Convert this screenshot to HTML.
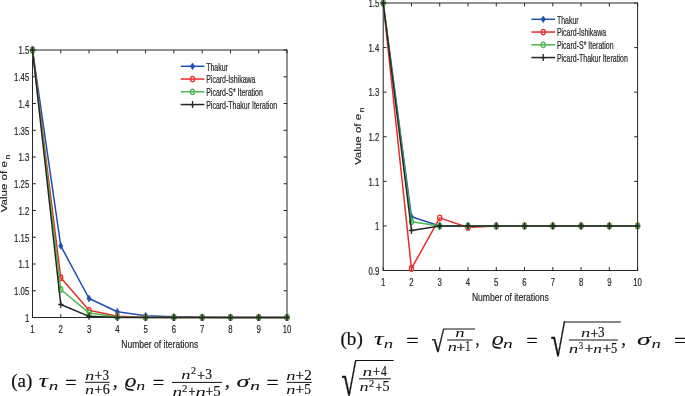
<!DOCTYPE html>
<html><head><meta charset="utf-8"><title>Figure</title>
<style>html,body{margin:0;padding:0;background:#fff;width:685px;height:396px;overflow:hidden}svg{display:block}</style>
</head><body>
<svg width="685" height="396" viewBox="0 0 685 396" font-family="Liberation Sans, Arial, sans-serif">
<rect width="685" height="396" fill="#fff"/>
<rect x="32.5" y="50" width="254.5" height="267.5" fill="none" stroke="#262626" stroke-width="1"/>
<path d="M32.5 317.5V314.1M32.5 50V53.4M60.78 317.5V314.1M60.78 50V53.4M89.06 317.5V314.1M89.06 50V53.4M117.33 317.5V314.1M117.33 50V53.4M145.61 317.5V314.1M145.61 50V53.4M173.89 317.5V314.1M173.89 50V53.4M202.17 317.5V314.1M202.17 50V53.4M230.44 317.5V314.1M230.44 50V53.4M258.72 317.5V314.1M258.72 50V53.4M287 317.5V314.1M287 50V53.4M32.5 317.5H35.9M287 317.5H283.6M32.5 290.75H35.9M287 290.75H283.6M32.5 264H35.9M287 264H283.6M32.5 237.25H35.9M287 237.25H283.6M32.5 210.5H35.9M287 210.5H283.6M32.5 183.75H35.9M287 183.75H283.6M32.5 157H35.9M287 157H283.6M32.5 130.25H35.9M287 130.25H283.6M32.5 103.5H35.9M287 103.5H283.6M32.5 76.75H35.9M287 76.75H283.6M32.5 50H35.9M287 50H283.6" stroke="#262626" stroke-width="1" fill="none"/>
<g fill="#262626" stroke="#262626" stroke-width="0.2">
<text transform="translate(32.5,332.9) scale(0.74,1)" font-size="10.5" text-anchor="middle">1</text>
<text transform="translate(60.78,332.9) scale(0.74,1)" font-size="10.5" text-anchor="middle">2</text>
<text transform="translate(89.06,332.9) scale(0.74,1)" font-size="10.5" text-anchor="middle">3</text>
<text transform="translate(117.33,332.9) scale(0.74,1)" font-size="10.5" text-anchor="middle">4</text>
<text transform="translate(145.61,332.9) scale(0.74,1)" font-size="10.5" text-anchor="middle">5</text>
<text transform="translate(173.89,332.9) scale(0.74,1)" font-size="10.5" text-anchor="middle">6</text>
<text transform="translate(202.17,332.9) scale(0.74,1)" font-size="10.5" text-anchor="middle">7</text>
<text transform="translate(230.44,332.9) scale(0.74,1)" font-size="10.5" text-anchor="middle">8</text>
<text transform="translate(258.72,332.9) scale(0.74,1)" font-size="10.5" text-anchor="middle">9</text>
<text transform="translate(287,332.9) scale(0.74,1)" font-size="10.5" text-anchor="middle">10</text>
<text transform="translate(29.2,321.8) scale(0.74,1)" font-size="10.5" text-anchor="end">1</text>
<text transform="translate(29.2,295.05) scale(0.74,1)" font-size="10.5" text-anchor="end">1.05</text>
<text transform="translate(29.2,268.3) scale(0.74,1)" font-size="10.5" text-anchor="end">1.1</text>
<text transform="translate(29.2,241.55) scale(0.74,1)" font-size="10.5" text-anchor="end">1.15</text>
<text transform="translate(29.2,214.8) scale(0.74,1)" font-size="10.5" text-anchor="end">1.2</text>
<text transform="translate(29.2,188.05) scale(0.74,1)" font-size="10.5" text-anchor="end">1.25</text>
<text transform="translate(29.2,161.3) scale(0.74,1)" font-size="10.5" text-anchor="end">1.3</text>
<text transform="translate(29.2,134.55) scale(0.74,1)" font-size="10.5" text-anchor="end">1.35</text>
<text transform="translate(29.2,107.8) scale(0.74,1)" font-size="10.5" text-anchor="end">1.4</text>
<text transform="translate(29.2,81.05) scale(0.74,1)" font-size="10.5" text-anchor="end">1.45</text>
<text transform="translate(29.2,54.3) scale(0.74,1)" font-size="10.5" text-anchor="end">1.5</text>
<text transform="translate(159.75,347.5) scale(0.74,1)" font-size="11.55" text-anchor="middle">Number of iterations</text>
<text transform="translate(6.6,212.3) rotate(-90) scale(1,0.74)" font-size="11.55">Value of e<tspan font-size="8.5" dx="1.6" dy="4.2">n</tspan></text>
</g>
<polyline points="32.5,50 60.78,245.97 89.06,298.51 117.33,311.72 145.61,315.68 173.89,316.86 202.17,317.29 230.44,317.45 258.72,317.5 287,317.5" fill="none" stroke="#1f4fb0" stroke-width="1.5" stroke-linejoin="round"/>
<path d="M32.5 46.6L34.6 50L32.5 53.4L30.4 50Z" fill="#1f4fb0" stroke="#1f4fb0" stroke-width="0.6"/>
<path d="M60.78 242.57L62.88 245.97L60.78 249.37L58.68 245.97Z" fill="#1f4fb0" stroke="#1f4fb0" stroke-width="0.6"/>
<path d="M89.06 295.11L91.16 298.51L89.06 301.91L86.96 298.51Z" fill="#1f4fb0" stroke="#1f4fb0" stroke-width="0.6"/>
<path d="M117.33 308.32L119.43 311.72L117.33 315.12L115.23 311.72Z" fill="#1f4fb0" stroke="#1f4fb0" stroke-width="0.6"/>
<path d="M145.61 312.28L147.71 315.68L145.61 319.08L143.51 315.68Z" fill="#1f4fb0" stroke="#1f4fb0" stroke-width="0.6"/>
<path d="M173.89 313.46L175.99 316.86L173.89 320.26L171.79 316.86Z" fill="#1f4fb0" stroke="#1f4fb0" stroke-width="0.6"/>
<path d="M202.17 313.89L204.27 317.29L202.17 320.69L200.07 317.29Z" fill="#1f4fb0" stroke="#1f4fb0" stroke-width="0.6"/>
<path d="M230.44 314.05L232.54 317.45L230.44 320.85L228.34 317.45Z" fill="#1f4fb0" stroke="#1f4fb0" stroke-width="0.6"/>
<path d="M258.72 314.1L260.82 317.5L258.72 320.9L256.62 317.5Z" fill="#1f4fb0" stroke="#1f4fb0" stroke-width="0.6"/>
<path d="M287 314.1L289.1 317.5L287 320.9L284.9 317.5Z" fill="#1f4fb0" stroke="#1f4fb0" stroke-width="0.6"/>
<polyline points="32.5,50 60.78,277.75 89.06,310.28 117.33,316.16 145.61,317.23 173.89,317.45 202.17,317.5 230.44,317.5 258.72,317.5 287,317.5" fill="none" stroke="#ea2b2b" stroke-width="1.5" stroke-linejoin="round"/>
<ellipse cx="32.5" cy="50" rx="2.05" ry="2.75" fill="none" stroke="#ea2b2b" stroke-width="1.3"/>
<ellipse cx="60.78" cy="277.75" rx="2.05" ry="2.75" fill="none" stroke="#ea2b2b" stroke-width="1.3"/>
<ellipse cx="89.06" cy="310.28" rx="2.05" ry="2.75" fill="none" stroke="#ea2b2b" stroke-width="1.3"/>
<ellipse cx="117.33" cy="316.16" rx="2.05" ry="2.75" fill="none" stroke="#ea2b2b" stroke-width="1.3"/>
<ellipse cx="145.61" cy="317.23" rx="2.05" ry="2.75" fill="none" stroke="#ea2b2b" stroke-width="1.3"/>
<ellipse cx="173.89" cy="317.45" rx="2.05" ry="2.75" fill="none" stroke="#ea2b2b" stroke-width="1.3"/>
<ellipse cx="202.17" cy="317.5" rx="2.05" ry="2.75" fill="none" stroke="#ea2b2b" stroke-width="1.3"/>
<ellipse cx="230.44" cy="317.5" rx="2.05" ry="2.75" fill="none" stroke="#ea2b2b" stroke-width="1.3"/>
<ellipse cx="258.72" cy="317.5" rx="2.05" ry="2.75" fill="none" stroke="#ea2b2b" stroke-width="1.3"/>
<ellipse cx="287" cy="317.5" rx="2.05" ry="2.75" fill="none" stroke="#ea2b2b" stroke-width="1.3"/>
<polyline points="32.5,50 60.78,289.52 89.06,312.95 117.33,316.97 145.61,317.39 173.89,317.5 202.17,317.5 230.44,317.5 258.72,317.5 287,317.5" fill="none" stroke="#4cb84c" stroke-width="1.5" stroke-linejoin="round"/>
<ellipse cx="32.5" cy="50" rx="2.05" ry="2.75" fill="none" stroke="#4cb84c" stroke-width="1.3"/>
<ellipse cx="60.78" cy="289.52" rx="2.05" ry="2.75" fill="none" stroke="#4cb84c" stroke-width="1.3"/>
<ellipse cx="89.06" cy="312.95" rx="2.05" ry="2.75" fill="none" stroke="#4cb84c" stroke-width="1.3"/>
<ellipse cx="117.33" cy="316.97" rx="2.05" ry="2.75" fill="none" stroke="#4cb84c" stroke-width="1.3"/>
<ellipse cx="145.61" cy="317.39" rx="2.05" ry="2.75" fill="none" stroke="#4cb84c" stroke-width="1.3"/>
<ellipse cx="173.89" cy="317.5" rx="2.05" ry="2.75" fill="none" stroke="#4cb84c" stroke-width="1.3"/>
<ellipse cx="202.17" cy="317.5" rx="2.05" ry="2.75" fill="none" stroke="#4cb84c" stroke-width="1.3"/>
<ellipse cx="230.44" cy="317.5" rx="2.05" ry="2.75" fill="none" stroke="#4cb84c" stroke-width="1.3"/>
<ellipse cx="258.72" cy="317.5" rx="2.05" ry="2.75" fill="none" stroke="#4cb84c" stroke-width="1.3"/>
<ellipse cx="287" cy="317.5" rx="2.05" ry="2.75" fill="none" stroke="#4cb84c" stroke-width="1.3"/>
<polyline points="32.5,50 60.78,304.5 89.06,316.32 117.33,317.5 145.61,317.5 173.89,317.5 202.17,317.5 230.44,317.5 258.72,317.5 287,317.5" fill="none" stroke="#262626" stroke-width="1.5" stroke-linejoin="round"/>
<path d="M29.9 50H35.1M32.5 46.5V53.5" stroke="#262626" stroke-width="1.3" fill="none"/>
<path d="M58.18 304.5H63.38M60.78 301V308" stroke="#262626" stroke-width="1.3" fill="none"/>
<path d="M86.46 316.32H91.66M89.06 312.82V319.82" stroke="#262626" stroke-width="1.3" fill="none"/>
<path d="M114.73 317.5H119.93M117.33 314V321" stroke="#262626" stroke-width="1.3" fill="none"/>
<path d="M143.01 317.5H148.21M145.61 314V321" stroke="#262626" stroke-width="1.3" fill="none"/>
<path d="M171.29 317.5H176.49M173.89 314V321" stroke="#262626" stroke-width="1.3" fill="none"/>
<path d="M199.57 317.5H204.77M202.17 314V321" stroke="#262626" stroke-width="1.3" fill="none"/>
<path d="M227.84 317.5H233.04M230.44 314V321" stroke="#262626" stroke-width="1.3" fill="none"/>
<path d="M256.12 317.5H261.32M258.72 314V321" stroke="#262626" stroke-width="1.3" fill="none"/>
<path d="M284.4 317.5H289.6M287 314V321" stroke="#262626" stroke-width="1.3" fill="none"/>
<line x1="180.7" y1="66.3" x2="204.4" y2="66.3" stroke="#1f4fb0" stroke-width="1.5"/>
<path d="M192.55 62.9L194.65 66.3L192.55 69.7L190.45 66.3Z" fill="#1f4fb0" stroke="#1f4fb0" stroke-width="0.6"/>
<g fill="#262626" stroke="#262626" stroke-width="0.2">
<text transform="translate(206.2,70.6) scale(0.692,1)" font-size="10.1" text-anchor="start">Thakur</text>
</g>
<line x1="180.7" y1="79.05" x2="204.4" y2="79.05" stroke="#ea2b2b" stroke-width="1.5"/>
<ellipse cx="192.55" cy="79.05" rx="2.05" ry="2.75" fill="none" stroke="#ea2b2b" stroke-width="1.3"/>
<g fill="#262626" stroke="#262626" stroke-width="0.2">
<text transform="translate(206.2,83.35) scale(0.692,1)" font-size="10.1" text-anchor="start">Picard-Ishikawa</text>
</g>
<line x1="180.7" y1="91.8" x2="204.4" y2="91.8" stroke="#4cb84c" stroke-width="1.5"/>
<ellipse cx="192.55" cy="91.8" rx="2.05" ry="2.75" fill="none" stroke="#4cb84c" stroke-width="1.3"/>
<g fill="#262626" stroke="#262626" stroke-width="0.2">
<text transform="translate(206.2,96.1) scale(0.692,1)" font-size="10.1" text-anchor="start">Picard-S* Iteration</text>
</g>
<line x1="180.7" y1="104.55" x2="204.4" y2="104.55" stroke="#262626" stroke-width="1.5"/>
<path d="M189.95 104.55H195.15M192.55 101.05V108.05" stroke="#262626" stroke-width="1.3" fill="none"/>
<g fill="#262626" stroke="#262626" stroke-width="0.2">
<text transform="translate(206.2,108.85) scale(0.692,1)" font-size="10.1" text-anchor="start">Picard-Thakur Iteration</text>
</g>
<rect x="383.2" y="3" width="254.4" height="267.5" fill="none" stroke="#262626" stroke-width="1"/>
<path d="M383.2 270.5V267.1M383.2 3V6.4M411.47 270.5V267.1M411.47 3V6.4M439.73 270.5V267.1M439.73 3V6.4M468 270.5V267.1M468 3V6.4M496.27 270.5V267.1M496.27 3V6.4M524.53 270.5V267.1M524.53 3V6.4M552.8 270.5V267.1M552.8 3V6.4M581.07 270.5V267.1M581.07 3V6.4M609.33 270.5V267.1M609.33 3V6.4M637.6 270.5V267.1M637.6 3V6.4M383.2 270.5H386.6M637.6 270.5H634.2M383.2 225.92H386.6M637.6 225.92H634.2M383.2 181.33H386.6M637.6 181.33H634.2M383.2 136.75H386.6M637.6 136.75H634.2M383.2 92.17H386.6M637.6 92.17H634.2M383.2 47.58H386.6M637.6 47.58H634.2M383.2 3H386.6M637.6 3H634.2" stroke="#262626" stroke-width="1" fill="none"/>
<g fill="#262626" stroke="#262626" stroke-width="0.2">
<text transform="translate(383.2,285.9) scale(0.74,1)" font-size="10.5" text-anchor="middle">1</text>
<text transform="translate(411.47,285.9) scale(0.74,1)" font-size="10.5" text-anchor="middle">2</text>
<text transform="translate(439.73,285.9) scale(0.74,1)" font-size="10.5" text-anchor="middle">3</text>
<text transform="translate(468,285.9) scale(0.74,1)" font-size="10.5" text-anchor="middle">4</text>
<text transform="translate(496.27,285.9) scale(0.74,1)" font-size="10.5" text-anchor="middle">5</text>
<text transform="translate(524.53,285.9) scale(0.74,1)" font-size="10.5" text-anchor="middle">6</text>
<text transform="translate(552.8,285.9) scale(0.74,1)" font-size="10.5" text-anchor="middle">7</text>
<text transform="translate(581.07,285.9) scale(0.74,1)" font-size="10.5" text-anchor="middle">8</text>
<text transform="translate(609.33,285.9) scale(0.74,1)" font-size="10.5" text-anchor="middle">9</text>
<text transform="translate(637.6,285.9) scale(0.74,1)" font-size="10.5" text-anchor="middle">10</text>
<text transform="translate(379.3,274.8) scale(0.74,1)" font-size="10.5" text-anchor="end">0.9</text>
<text transform="translate(379.3,230.22) scale(0.74,1)" font-size="10.5" text-anchor="end">1</text>
<text transform="translate(379.3,185.63) scale(0.74,1)" font-size="10.5" text-anchor="end">1.1</text>
<text transform="translate(379.3,141.05) scale(0.74,1)" font-size="10.5" text-anchor="end">1.2</text>
<text transform="translate(379.3,96.47) scale(0.74,1)" font-size="10.5" text-anchor="end">1.3</text>
<text transform="translate(379.3,51.88) scale(0.74,1)" font-size="10.5" text-anchor="end">1.4</text>
<text transform="translate(379.3,7.3) scale(0.74,1)" font-size="10.5" text-anchor="end">1.5</text>
<text transform="translate(510.4,300.5) scale(0.74,1)" font-size="11.55" text-anchor="middle">Number of iterations</text>
<text transform="translate(361.2,165) rotate(-90) scale(1,0.74)" font-size="11.55">Value of e<tspan font-size="8.5" dx="1.6" dy="4.2">n</tspan></text>
</g>
<polyline points="383.2,3 411.47,216.78 439.73,225.92 468,225.92 496.27,225.92 524.53,225.92 552.8,225.92 581.07,225.92 609.33,225.92 637.6,225.92" fill="none" stroke="#1f4fb0" stroke-width="1.5" stroke-linejoin="round"/>
<path d="M383.2 -0.4L385.3 3L383.2 6.4L381.1 3Z" fill="#1f4fb0" stroke="#1f4fb0" stroke-width="0.6"/>
<path d="M411.47 213.38L413.57 216.78L411.47 220.18L409.37 216.78Z" fill="#1f4fb0" stroke="#1f4fb0" stroke-width="0.6"/>
<path d="M439.73 222.52L441.83 225.92L439.73 229.32L437.63 225.92Z" fill="#1f4fb0" stroke="#1f4fb0" stroke-width="0.6"/>
<path d="M468 222.52L470.1 225.92L468 229.32L465.9 225.92Z" fill="#1f4fb0" stroke="#1f4fb0" stroke-width="0.6"/>
<path d="M496.27 222.52L498.37 225.92L496.27 229.32L494.17 225.92Z" fill="#1f4fb0" stroke="#1f4fb0" stroke-width="0.6"/>
<path d="M524.53 222.52L526.63 225.92L524.53 229.32L522.43 225.92Z" fill="#1f4fb0" stroke="#1f4fb0" stroke-width="0.6"/>
<path d="M552.8 222.52L554.9 225.92L552.8 229.32L550.7 225.92Z" fill="#1f4fb0" stroke="#1f4fb0" stroke-width="0.6"/>
<path d="M581.07 222.52L583.17 225.92L581.07 229.32L578.97 225.92Z" fill="#1f4fb0" stroke="#1f4fb0" stroke-width="0.6"/>
<path d="M609.33 222.52L611.43 225.92L609.33 229.32L607.23 225.92Z" fill="#1f4fb0" stroke="#1f4fb0" stroke-width="0.6"/>
<path d="M637.6 222.52L639.7 225.92L637.6 229.32L635.5 225.92Z" fill="#1f4fb0" stroke="#1f4fb0" stroke-width="0.6"/>
<polyline points="383.2,3 411.47,268.49 439.73,217.89 468,227.43 496.27,225.92 524.53,225.92 552.8,225.92 581.07,225.92 609.33,225.92 637.6,225.92" fill="none" stroke="#ea2b2b" stroke-width="1.5" stroke-linejoin="round"/>
<ellipse cx="383.2" cy="3" rx="2.05" ry="2.75" fill="none" stroke="#ea2b2b" stroke-width="1.3"/>
<ellipse cx="411.47" cy="268.49" rx="2.05" ry="2.75" fill="none" stroke="#ea2b2b" stroke-width="1.3"/>
<ellipse cx="439.73" cy="217.89" rx="2.05" ry="2.75" fill="none" stroke="#ea2b2b" stroke-width="1.3"/>
<ellipse cx="468" cy="227.43" rx="2.05" ry="2.75" fill="none" stroke="#ea2b2b" stroke-width="1.3"/>
<ellipse cx="496.27" cy="225.92" rx="2.05" ry="2.75" fill="none" stroke="#ea2b2b" stroke-width="1.3"/>
<ellipse cx="524.53" cy="225.92" rx="2.05" ry="2.75" fill="none" stroke="#ea2b2b" stroke-width="1.3"/>
<ellipse cx="552.8" cy="225.92" rx="2.05" ry="2.75" fill="none" stroke="#ea2b2b" stroke-width="1.3"/>
<ellipse cx="581.07" cy="225.92" rx="2.05" ry="2.75" fill="none" stroke="#ea2b2b" stroke-width="1.3"/>
<ellipse cx="609.33" cy="225.92" rx="2.05" ry="2.75" fill="none" stroke="#ea2b2b" stroke-width="1.3"/>
<ellipse cx="637.6" cy="225.92" rx="2.05" ry="2.75" fill="none" stroke="#ea2b2b" stroke-width="1.3"/>
<polyline points="383.2,3 411.47,221.73 439.73,225.92 468,225.92 496.27,225.92 524.53,225.92 552.8,225.92 581.07,225.92 609.33,225.92 637.6,225.92" fill="none" stroke="#4cb84c" stroke-width="1.5" stroke-linejoin="round"/>
<ellipse cx="383.2" cy="3" rx="2.05" ry="2.75" fill="none" stroke="#4cb84c" stroke-width="1.3"/>
<ellipse cx="411.47" cy="221.73" rx="2.05" ry="2.75" fill="none" stroke="#4cb84c" stroke-width="1.3"/>
<ellipse cx="439.73" cy="225.92" rx="2.05" ry="2.75" fill="none" stroke="#4cb84c" stroke-width="1.3"/>
<ellipse cx="468" cy="225.92" rx="2.05" ry="2.75" fill="none" stroke="#4cb84c" stroke-width="1.3"/>
<ellipse cx="496.27" cy="225.92" rx="2.05" ry="2.75" fill="none" stroke="#4cb84c" stroke-width="1.3"/>
<ellipse cx="524.53" cy="225.92" rx="2.05" ry="2.75" fill="none" stroke="#4cb84c" stroke-width="1.3"/>
<ellipse cx="552.8" cy="225.92" rx="2.05" ry="2.75" fill="none" stroke="#4cb84c" stroke-width="1.3"/>
<ellipse cx="581.07" cy="225.92" rx="2.05" ry="2.75" fill="none" stroke="#4cb84c" stroke-width="1.3"/>
<ellipse cx="609.33" cy="225.92" rx="2.05" ry="2.75" fill="none" stroke="#4cb84c" stroke-width="1.3"/>
<ellipse cx="637.6" cy="225.92" rx="2.05" ry="2.75" fill="none" stroke="#4cb84c" stroke-width="1.3"/>
<polyline points="383.2,3 411.47,230.51 439.73,225.92 468,225.92 496.27,225.92 524.53,225.92 552.8,225.92 581.07,225.92 609.33,225.92 637.6,225.92" fill="none" stroke="#262626" stroke-width="1.5" stroke-linejoin="round"/>
<path d="M380.6 3H385.8M383.2 -0.5V6.5" stroke="#262626" stroke-width="1.3" fill="none"/>
<path d="M408.87 230.51H414.07M411.47 227.01V234.01" stroke="#262626" stroke-width="1.3" fill="none"/>
<path d="M437.13 225.92H442.33M439.73 222.42V229.42" stroke="#262626" stroke-width="1.3" fill="none"/>
<path d="M465.4 225.92H470.6M468 222.42V229.42" stroke="#262626" stroke-width="1.3" fill="none"/>
<path d="M493.67 225.92H498.87M496.27 222.42V229.42" stroke="#262626" stroke-width="1.3" fill="none"/>
<path d="M521.93 225.92H527.13M524.53 222.42V229.42" stroke="#262626" stroke-width="1.3" fill="none"/>
<path d="M550.2 225.92H555.4M552.8 222.42V229.42" stroke="#262626" stroke-width="1.3" fill="none"/>
<path d="M578.47 225.92H583.67M581.07 222.42V229.42" stroke="#262626" stroke-width="1.3" fill="none"/>
<path d="M606.73 225.92H611.93M609.33 222.42V229.42" stroke="#262626" stroke-width="1.3" fill="none"/>
<path d="M635 225.92H640.2M637.6 222.42V229.42" stroke="#262626" stroke-width="1.3" fill="none"/>
<line x1="531.4" y1="19.3" x2="555.1" y2="19.3" stroke="#1f4fb0" stroke-width="1.5"/>
<path d="M543.25 15.9L545.35 19.3L543.25 22.7L541.15 19.3Z" fill="#1f4fb0" stroke="#1f4fb0" stroke-width="0.6"/>
<g fill="#262626" stroke="#262626" stroke-width="0.2">
<text transform="translate(556.9,23.6) scale(0.692,1)" font-size="10.1" text-anchor="start">Thakur</text>
</g>
<line x1="531.4" y1="32.05" x2="555.1" y2="32.05" stroke="#ea2b2b" stroke-width="1.5"/>
<ellipse cx="543.25" cy="32.05" rx="2.05" ry="2.75" fill="none" stroke="#ea2b2b" stroke-width="1.3"/>
<g fill="#262626" stroke="#262626" stroke-width="0.2">
<text transform="translate(556.9,36.35) scale(0.692,1)" font-size="10.1" text-anchor="start">Picard-Ishikawa</text>
</g>
<line x1="531.4" y1="44.8" x2="555.1" y2="44.8" stroke="#4cb84c" stroke-width="1.5"/>
<ellipse cx="543.25" cy="44.8" rx="2.05" ry="2.75" fill="none" stroke="#4cb84c" stroke-width="1.3"/>
<g fill="#262626" stroke="#262626" stroke-width="0.2">
<text transform="translate(556.9,49.1) scale(0.692,1)" font-size="10.1" text-anchor="start">Picard-S* Iteration</text>
</g>
<line x1="531.4" y1="57.55" x2="555.1" y2="57.55" stroke="#262626" stroke-width="1.5"/>
<path d="M540.65 57.55H545.85M543.25 54.05V61.05" stroke="#262626" stroke-width="1.3" fill="none"/>
<g fill="#262626" stroke="#262626" stroke-width="0.2">
<text transform="translate(556.9,61.85) scale(0.692,1)" font-size="10.1" text-anchor="start">Picard-Thakur Iteration</text>
</g>
<g font-family="Liberation Serif, serif" fill="#111" stroke="#111" stroke-linejoin="round">
<text transform="matrix(0.19,0,0,0.183,11.216,387.3)" font-size="100" stroke-width="1.18">(a)</text>
<text transform="matrix(0.255,0,0,0.183,38.764,387.3)" font-size="100" stroke-width="0.684"><tspan font-style="italic">τ</tspan></text>
<text transform="matrix(0.192,0,0,0.13,48.708,390.2)" font-size="100" stroke-width="0"><tspan font-style="italic">n</tspan></text>
<text transform="matrix(0.201,0,0,0.183,65.17,389.3)" font-size="100" stroke-width="1.562">=</text>
<text transform="matrix(0.203,0,0,0.183,112.862,387.3)" font-size="100" stroke-width="0.777">,</text>
<text transform="matrix(0.232,0,0,0.183,124.812,387.3)" font-size="100" stroke-width="0.724"><tspan font-style="italic">ϱ</tspan></text>
<text transform="matrix(0.18,0,0,0.13,136.356,390.2)" font-size="100" stroke-width="0"><tspan font-style="italic">n</tspan></text>
<text transform="matrix(0.203,0,0,0.183,152.659,389.3)" font-size="100" stroke-width="1.554">=</text>
<text transform="matrix(0.21,0,0,0.183,224.635,387.3)" font-size="100" stroke-width="0.763">,</text>
<text transform="matrix(0.262,0,0,0.174,236.488,387.3)" font-size="100" stroke-width="0.688"><tspan font-style="italic">σ</tspan></text>
<text transform="matrix(0.201,0,0,0.13,250.07,390.2)" font-size="100" stroke-width="0"><tspan font-style="italic">n</tspan></text>
<text transform="matrix(0.214,0,0,0.183,266.406,389.3)" font-size="100" stroke-width="1.512">=</text>
<text transform="matrix(0.187,0,0,0.126,85.027,379.5)" font-size="100" stroke-width="0"><tspan font-style="italic">n</tspan></text>
<text transform="matrix(0.137,0,0,0.14,94.489,379.848)" font-size="100" stroke-width="2.161">+</text>
<text transform="matrix(0.126,0,0,0.138,102.747,379.5)" font-size="100" stroke-width="1.139">3</text>
<text transform="matrix(0.182,0,0,0.126,85.046,394)" font-size="100" stroke-width="0"><tspan font-style="italic">n</tspan></text>
<text transform="matrix(0.137,0,0,0.14,94.489,394.348)" font-size="100" stroke-width="2.161">+</text>
<text transform="matrix(0.141,0,0,0.138,102.812,394)" font-size="100" stroke-width="1.077">6</text>
<text transform="matrix(0.185,0,0,0.126,181.337,379.4)" font-size="100" stroke-width="0"><tspan font-style="italic">n</tspan></text>
<text transform="matrix(0.101,0,0,0.099,191.07,374.3)" font-size="100" stroke-width="1.501">2</text>
<text transform="matrix(0.135,0,0,0.14,197.299,379.748)" font-size="100" stroke-width="2.178">+</text>
<text transform="matrix(0.135,0,0,0.138,205.198,379.4)" font-size="100" stroke-width="1.098">3</text>
<text transform="matrix(0.194,0,0,0.126,172.399,395.5)" font-size="100" stroke-width="0"><tspan font-style="italic">n</tspan></text>
<text transform="matrix(0.109,0,0,0.099,182.04,391.6)" font-size="100" stroke-width="1.447">2</text>
<text transform="matrix(0.122,0,0,0.14,188.463,395.848)" font-size="100" stroke-width="2.284">+</text>
<text transform="matrix(0.208,0,0,0.126,195.542,395.5)" font-size="100" stroke-width="0"><tspan font-style="italic">n</tspan></text>
<text transform="matrix(0.135,0,0,0.14,205.599,395.848)" font-size="100" stroke-width="2.178">+</text>
<text transform="matrix(0.149,0,0,0.138,213.283,395.5)" font-size="100" stroke-width="1.047">5</text>
<text transform="matrix(0.185,0,0,0.126,286.337,379.6)" font-size="100" stroke-width="0"><tspan font-style="italic">n</tspan></text>
<text transform="matrix(0.15,0,0,0.14,295.525,379.948)" font-size="100" stroke-width="2.066">+</text>
<text transform="matrix(0.151,0,0,0.138,304.17,379.6)" font-size="100" stroke-width="1.038">2</text>
<text transform="matrix(0.185,0,0,0.126,286.337,393.6)" font-size="100" stroke-width="0"><tspan font-style="italic">n</tspan></text>
<text transform="matrix(0.15,0,0,0.14,295.525,393.948)" font-size="100" stroke-width="2.066">+</text>
<text transform="matrix(0.134,0,0,0.138,304.373,393.6)" font-size="100" stroke-width="1.105">5</text>
<text transform="matrix(0.192,0,0,0.183,340.406,345.2)" font-size="100" stroke-width="1.173">(b)</text>
<text transform="matrix(0.264,0,0,0.183,373.948,345.2)" font-size="100" stroke-width="0.672"><tspan font-style="italic">τ</tspan></text>
<text transform="matrix(0.189,0,0,0.13,383.818,347.9)" font-size="100" stroke-width="0"><tspan font-style="italic">n</tspan></text>
<text transform="matrix(0.22,0,0,0.183,406.274,347.1)" font-size="100" stroke-width="1.488">=</text>
<text transform="matrix(0.231,0,0,0.288,431.413,351.625)" font-size="100" stroke-width="1.348">√</text>
<text transform="matrix(0.163,0,0,0.183,475.622,345.2)" font-size="100" stroke-width="0.866">,</text>
<text transform="matrix(0.232,0,0,0.183,492.012,345.2)" font-size="100" stroke-width="0.724"><tspan font-style="italic">ϱ</tspan></text>
<text transform="matrix(0.196,0,0,0.13,503.089,347.9)" font-size="100" stroke-width="0"><tspan font-style="italic">n</tspan></text>
<text transform="matrix(0.197,0,0,0.183,526.491,347.1)" font-size="100" stroke-width="1.58">=</text>
<text transform="matrix(0.261,0,0,0.435,550.652,355.925)" font-size="100" stroke-width="1.006">√</text>
<text transform="matrix(0.19,0,0,0.183,621.215,345.2)" font-size="100" stroke-width="0.804">,</text>
<text transform="matrix(0.277,0,0,0.174,637.045,345.2)" font-size="100" stroke-width="0.666"><tspan font-style="italic">σ</tspan></text>
<text transform="matrix(0.189,0,0,0.13,651.418,347.9)" font-size="100" stroke-width="0"><tspan font-style="italic">n</tspan></text>
<text transform="matrix(0.207,0,0,0.183,674.138,347.1)" font-size="100" stroke-width="1.537">=</text>
<text transform="matrix(0.271,0,0,0.441,341.433,395.225)" font-size="100" stroke-width="0.983">√</text>
<text transform="matrix(0.187,0,0,0.126,455.127,336.9)" font-size="100" stroke-width="0"><tspan font-style="italic">n</tspan></text>
<text transform="matrix(0.185,0,0,0.126,447.637,351.4)" font-size="100" stroke-width="0"><tspan font-style="italic">n</tspan></text>
<text transform="matrix(0.152,0,0,0.14,456.514,351.748)" font-size="100" stroke-width="2.051">+</text>
<text transform="matrix(0.11,0,0,0.138,465.085,351.4)" font-size="100" stroke-width="1.211">1</text>
<text transform="matrix(0.185,0,0,0.126,580.937,337.3)" font-size="100" stroke-width="0"><tspan font-style="italic">n</tspan></text>
<text transform="matrix(0.137,0,0,0.14,590.389,337.648)" font-size="100" stroke-width="2.161">+</text>
<text transform="matrix(0.13,0,0,0.138,598.023,337.3)" font-size="100" stroke-width="1.118">3</text>
<text transform="matrix(0.192,0,0,0.126,568.708,352.8)" font-size="100" stroke-width="0"><tspan font-style="italic">n</tspan></text>
<text transform="matrix(0.087,0,0,0.099,578.842,348.5)" font-size="100" stroke-width="1.62">3</text>
<text transform="matrix(0.15,0,0,0.14,584.625,353.148)" font-size="100" stroke-width="2.066">+</text>
<text transform="matrix(0.173,0,0,0.126,593.285,352.8)" font-size="100" stroke-width="0"><tspan font-style="italic">n</tspan></text>
<text transform="matrix(0.15,0,0,0.14,602.625,353.148)" font-size="100" stroke-width="2.066">+</text>
<text transform="matrix(0.124,0,0,0.138,611.033,352.8)" font-size="100" stroke-width="1.147">5</text>
<text transform="matrix(0.196,0,0,0.126,362.389,375.7)" font-size="100" stroke-width="0"><tspan font-style="italic">n</tspan></text>
<text transform="matrix(0.129,0,0,0.14,372.631,376.048)" font-size="100" stroke-width="2.229">+</text>
<text transform="matrix(0.116,0,0,0.138,380.942,375.7)" font-size="100" stroke-width="1.181">4</text>
<text transform="matrix(0.182,0,0,0.126,359.546,391.4)" font-size="100" stroke-width="0"><tspan font-style="italic">n</tspan></text>
<text transform="matrix(0.104,0,0,0.099,368.96,387.3)" font-size="100" stroke-width="1.483">2</text>
<text transform="matrix(0.114,0,0,0.14,375.806,391.748)" font-size="100" stroke-width="2.36">+</text>
<text transform="matrix(0.141,0,0,0.138,382.427,391.4)" font-size="100" stroke-width="1.075">5</text>
</g>
<g stroke="#111" fill="none">
<line x1="84.9" y1="382.3" x2="109.5" y2="382.3" stroke-width="1"/>
<line x1="172" y1="382.4" x2="222" y2="382.4" stroke-width="1"/>
<line x1="286.6" y1="382.4" x2="311.8" y2="382.4" stroke-width="1"/>
<line x1="447.2" y1="340" x2="472.6" y2="340" stroke-width="1"/>
<line x1="568.9" y1="340" x2="617.9" y2="340" stroke-width="1"/>
<line x1="359" y1="378.8" x2="390.8" y2="378.8" stroke-width="1"/>
<line x1="443.6" y1="329" x2="475" y2="329" stroke-width="1"/>
<line x1="564.4" y1="322" x2="620.9" y2="322" stroke-width="1"/>
<line x1="355.8" y1="360.5" x2="393.6" y2="360.5" stroke-width="1"/>
</g>
</svg>
</body></html>
